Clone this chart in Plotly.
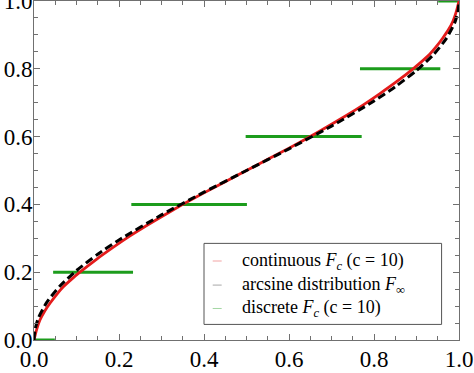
import plotly.graph_objects as go

# Continuous F_c (c = 10) – red curve
red_x = [0, 0.006, 0.014, 0.025, 0.038, 0.055, 0.069, 0.09, 0.108, 0.147, 0.186, 0.226, 0.268, 0.31, 0.35,
         0.4, 0.45, 0.5, 0.55, 0.6, 0.65, 0.69, 0.732, 0.774, 0.814, 0.853, 0.892, 0.91, 0.931, 0.945,
         0.962, 0.975, 0.986, 0.994, 1.0]
red_y = [0, 0.03, 0.059, 0.085, 0.109, 0.137, 0.157, 0.181, 0.200, 0.238, 0.273, 0.307, 0.340, 0.371, 0.40,
         0.434, 0.467, 0.5, 0.533, 0.566, 0.60, 0.629, 0.66, 0.693, 0.727, 0.762, 0.80, 0.819, 0.843, 0.863,
         0.891, 0.915, 0.941, 0.97, 1.0]

# Arcsine distribution F_inf – black dashed curve
arc_x = [0, 0.002, 0.01, 0.03, 0.06, 0.1, 0.15, 0.2, 0.3, 0.4, 0.5, 0.6, 0.7, 0.8, 0.85, 0.9, 0.94, 0.97,
         0.99, 0.998, 1.0]
arc_y = [0, 0.028, 0.064, 0.111, 0.158, 0.205, 0.253, 0.295, 0.369, 0.436, 0.5, 0.564, 0.631, 0.705, 0.747,
         0.795, 0.842, 0.889, 0.936, 0.972, 1.0]

# Discrete F_c (c = 10) – green steps
step_level = [0.0, 0.2, 0.4, 0.6, 0.8, 1.0]
step_start = [0.0, 0.045, 0.229, 0.498, 0.767, 0.951]
step_end = [0.049, 0.233, 0.501, 0.771, 0.956, 1.0]

tick_vals = [0.0, 0.2, 0.4, 0.6, 0.8, 1.0]
tick_text = ["0.0", "0.2", "0.4", "0.6", "0.8", "1.0"]

legend_labels = ["continuous <i>F<sub>c</sub></i> (c = 10)",
                 "arcsine distribution <i>F</i><sub>∞</sub>",
                 "discrete <i>F<sub>c</sub></i> (c = 10)"]

RED = "#e41b1b"
GREEN = "#1c9c1c"
SERIF = "Times New Roman, Liberation Serif, Nimbus Roman, DejaVu Serif, serif"

gx, gy = [], []
for a, b, lv in zip(step_start, step_end, step_level):
    gx += [a, b, None]
    gy += [lv, lv, None]

fig = go.Figure()
fig.add_trace(go.Scatter(x=gx, y=gy, mode="lines", line=dict(color=GREEN, width=3),
                         cliponaxis=False, showlegend=False, hoverinfo="skip"))
fig.add_trace(go.Scatter(x=red_x, y=red_y, mode="lines",
                         line=dict(color=RED, width=2.8, shape="spline", smoothing=0.6),
                         showlegend=False))
fig.add_trace(go.Scatter(x=arc_x, y=arc_y, mode="lines",
                         line=dict(color="black", width=3, dash="8px,4px", shape="spline", smoothing=0.6),
                         showlegend=False))

axis_common = dict(
    range=[0, 1], showgrid=False, zeroline=False, automargin=False,
    showline=True, linecolor="#707070", linewidth=1, mirror="allticks",
    ticks="inside", ticklen=6, tickwidth=1, tickcolor="#707070",
    tickvals=tick_vals, ticktext=tick_text, ticklabeloverflow="allow",
    tickfont=dict(family=SERIF, size=23, color="black"),
    minor=dict(dtick=0.05, ticks="inside", ticklen=4, tickwidth=1, tickcolor="#707070"),
)
fig.update_xaxes(**axis_common, ticklabelstandoff=-2)
fig.update_yaxes(**axis_common, ticklabelstandoff=-4)

# Manual legend
shapes = [dict(type="rect", xref="x", yref="y", x0=0.4, x1=0.959, y0=0.046, y1=0.285,
               line=dict(color="#555555", width=1), fillcolor="white", layer="above")]
sym_colors = ["#f2a3a3", "#a8a8a8", "#a3d6a3"]
row_y = [0.233, 0.162, 0.093]
annotations = []
for lab, c, yy in zip(legend_labels, sym_colors, row_y):
    shapes.append(dict(type="line", xref="x", yref="y", x0=0.4205, x1=0.4416, y0=yy, y1=yy,
                       line=dict(color=c, width=1), layer="above"))
    annotations.append(dict(xref="x", yref="y", x=0.4847, y=yy, text=lab, showarrow=False,
                            xanchor="left", yanchor="middle",
                            font=dict(family=SERIF, size=18, color="black")))

fig.update_layout(
    width=474, height=373,
    margin=dict(l=34, r=15, t=1, b=33),
    plot_bgcolor="white", paper_bgcolor="white",
    font=dict(family=SERIF),
    shapes=shapes, annotations=annotations,
    showlegend=False,
)

fig.write_html("out.html", config={"displayModeBar": False},
               post_script="document.body.style.margin='0';document.body.style.padding='0';")
